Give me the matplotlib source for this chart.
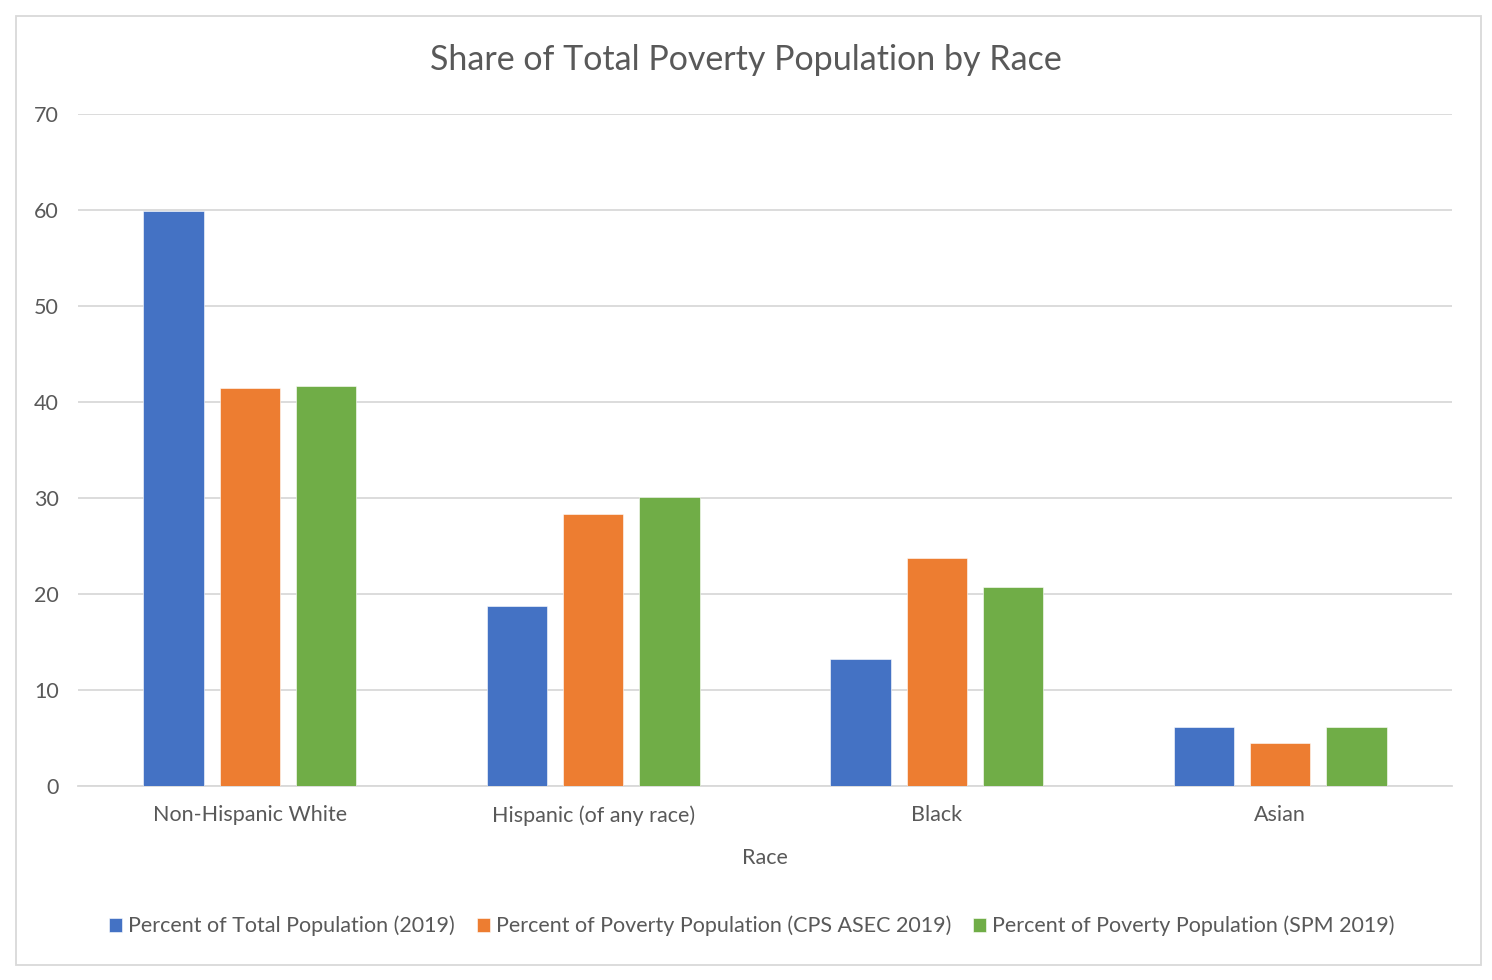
import matplotlib
matplotlib.use("Agg")
import matplotlib.pyplot as plt
import numpy as np
from matplotlib.patches import Rectangle

races = ["Non-Hispanic White", "Hispanic (of any race)", "Black", "Asian"]
series = ["Percent of Total Population (2019)",
          "Percent of Poverty Population (CPS ASEC 2019)",
          "Percent of Poverty Population (SPM 2019)"]
total_pop = [59.9, 18.8, 13.2, 6.1]
cps_asec = [41.5, 28.3, 23.8, 4.5]
spm = [41.7, 30.1, 20.7, 6.1]
colors = ["#4472C4", "#ED7D31", "#70AD47"]

TXT = "#595959"
GRID = "#d9d9d9"
plt.rcParams["font.family"] = ["Lato", "DejaVu Sans"]

W, H = 1492, 980
fig = plt.figure(figsize=(W / 100, H / 100), dpi=100)
ax = fig.add_axes([78 / W, 1 - 786 / H, (1452 - 78) / W, (786 - 114) / H])

x = np.arange(len(races))
bw, off = 0.175, 0.222
for i, (vals, lab) in enumerate(zip([total_pop, cps_asec, spm], series)):
    ax.bar(x + (i - 1) * off, vals, bw, color=colors[i], label=lab,
           edgecolor="white", linewidth=0.4, zorder=3)

ax.set_xlim(-0.5, 3.5)
ax.set_ylim(0, 70)
ax.set_yticks(range(0, 71, 10))
ax.set_xticks(x)
ax.set_xticklabels(races)
ax.grid(axis="y", color=GRID, linewidth=1.3, zorder=0)
for s in ["top", "right", "left"]:
    ax.spines[s].set_visible(False)
ax.spines["bottom"].set_color(GRID)
ax.spines["bottom"].set_linewidth(1.3)
ax.tick_params(axis="both", length=0, colors=TXT, labelsize=15.5)
ax.tick_params(axis="x", pad=14)
ax.tick_params(axis="y", pad=14)

ax.set_xlabel("Race", color=TXT, fontsize=15.5, labelpad=16)
fig.text(746 / W, 1 - 60 / H, "Share of Total Poverty Population by Race",
         ha="center", va="center", fontsize=24.5, color=TXT)

leg = fig.legend(loc="center", bbox_to_anchor=(752 / W, 1 - 926 / H), ncol=3,
                 frameon=False, fontsize=15.5, handlelength=0.6, handleheight=0.6,
                 handletextpad=0.3, columnspacing=1.0, labelcolor=TXT)

fig.patches.append(Rectangle((16 / W, 1 - 965 / H), (1481 - 16) / W, (965 - 16) / H,
                             transform=fig.transFigure, fill=False,
                             edgecolor=GRID, linewidth=1.3))

fig.savefig("out.png", dpi=100)
